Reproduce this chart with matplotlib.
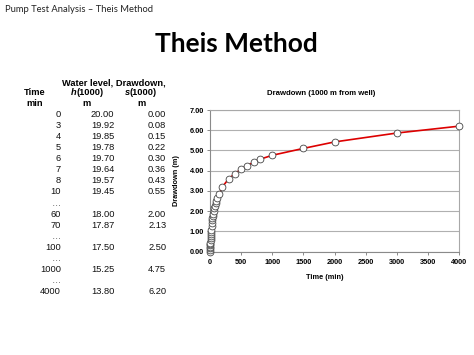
import matplotlib
matplotlib.use("Agg")
import matplotlib.pyplot as plt

# ---------------- data ----------------
table_times = ["0", "3", "4", "5", "6", "7", "8", "10", "\u2026", "60", "70", "\u2026", "100", "\u2026", "1000", "\u2026", "4000"]
table_levels = ["20.00", "19.92", "19.85", "19.78", "19.70", "19.64", "19.57", "19.45", "", "18.00", "17.87", "", "17.50", "", "15.25", "", "13.80"]
table_drawdowns = ["0.00", "0.08", "0.15", "0.22", "0.30", "0.36", "0.43", "0.55", "", "2.00", "2.13", "", "2.50", "", "4.75", "", "6.20"]

time_min = [0, 3, 4, 5, 6, 7, 8, 10, 12, 14, 16, 18, 20, 25, 30, 35, 40, 45, 50, 60, 70, 80, 90, 100,
            120, 150, 200, 300, 400, 500, 600, 700, 800, 1000, 1500, 2000, 3000, 4000]
drawdown_m = [0.00, 0.08, 0.15, 0.22, 0.30, 0.36, 0.43, 0.55, 0.66, 0.77, 0.87, 0.96, 1.05, 1.24, 1.40, 1.54, 1.66, 1.77, 1.86, 2.00, 2.13, 2.25, 2.38, 2.50,
              2.65, 2.85, 3.20, 3.60, 3.85, 4.08, 4.25, 4.42, 4.56, 4.76, 5.10, 5.42, 5.86, 6.20]

x_ticks = [0, 500, 1000, 1500, 2000, 2500, 3000, 3500, 4000]
y_ticks = [0, 1, 2, 3, 4, 5, 6, 7]

# ---------------- figure ----------------
W, H = 474, 355
fig = plt.figure(figsize=(W / 100, H / 100), dpi=100)
fig.patch.set_facecolor("white")


def fx(px):
    return px / W


def fy(py):
    return 1 - py / H


renderer = fig.canvas.get_renderer()


def fit_text(x, y, s, target_w, **kw):
    t = fig.text(fx(x), fy(y), s, **kw)
    fs = t.get_fontsize()
    w = t.get_window_extent(renderer).width
    t.set_fontsize(fs * target_w / w)
    return t


CAL = ["Lato", "DejaVu Sans"]
ARI = ["Liberation Sans", "DejaVu Sans"]

fit_text(5, 10, "Pump Test Analysis \u2013 Theis Method", 149, family=CAL, fontsize=8,
         color="#222222", ha="left", va="center")
fit_text(236.7, 44, "Theis Method", 163, family=CAL, fontsize=20, weight="bold",
         color="black", ha="center", va="center")

# ---------------- table ----------------
TFS = 6.7
fig.text(fx(113.7), fy(82.7), "Water level, Drawdown,", family=ARI, fontsize=TFS, weight="bold",
         ha="center", va="center")
fig.text(fx(34.5), fy(92.7), "Time", family=ARI, fontsize=TFS, weight="bold", ha="center", va="center")
fig.text(fx(34.5), fy(103.3), "min", family=ARI, fontsize=TFS, weight="bold", ha="center", va="center")


def split_header(cx, y, first):
    a = fig.text(0, fy(y), first, family=ARI, fontsize=TFS, weight="bold", style="italic",
                 ha="left", va="center")
    b = fig.text(0, fy(y), "(1000)", family=ARI, fontsize=TFS, weight="bold", ha="left", va="center")
    wa = a.get_window_extent(renderer).width
    wb = b.get_window_extent(renderer).width
    left = cx - (wa + wb) / 2
    a.set_x(fx(left))
    b.set_x(fx(left + wa))


split_header(87.7, 92.7, "h")
split_header(141, 92.7, "s")
fig.text(fx(86.7), fy(103.3), "m", family=ARI, fontsize=TFS, weight="bold", ha="center", va="center")
fig.text(fx(141), fy(103.3), "m", family=ARI, fontsize=TFS, weight="bold", ha="center", va="center")

row0, dy = 113.3, 11.08
for i, (t, lv, dd) in enumerate(zip(table_times, table_levels, table_drawdowns)):
    yb = row0 + i * dy + 3.6
    col = "#777777" if t == "\u2026" else "#111111"
    fig.text(fx(61), fy(yb), t, family=ARI, fontsize=TFS, ha="right", va="baseline", color=col)
    if lv:
        fig.text(fx(114.5), fy(yb), lv, family=ARI, fontsize=TFS, ha="right", va="baseline", color="#111111")
    if dd:
        fig.text(fx(166.2), fy(yb), dd, family=ARI, fontsize=TFS, ha="right", va="baseline", color="#111111")

# ---------------- chart ----------------
ax = fig.add_axes([fx(210), fy(251.5), fx(459) - fx(210), fy(110) - fy(251.5)])
ax.set_xlim(0, 4000)
ax.set_ylim(0, 7)
ax.set_xticks(x_ticks)
ax.set_yticks(y_ticks)
ax.set_xticklabels([str(v) for v in x_ticks])
ax.set_yticklabels(["%.2f" % v for v in y_ticks])
for lab in ax.get_xticklabels() + ax.get_yticklabels():
    lab.set_family(ARI)
    lab.set_fontsize(5.3)
    lab.set_fontweight("bold")
ax.tick_params(axis="both", direction="out", length=2.5, width=0.6, color="#777777")
ax.tick_params(axis="y", pad=1.8)
ax.tick_params(axis="x", pad=3)

ax.grid(axis="y", color="#b0b0b0", linewidth=0.8)
ax.set_axisbelow(True)
for side in ("top", "right"):
    ax.spines[side].set_color("#a8a8a8")
    ax.spines[side].set_linewidth(0.8)
for side in ("left", "bottom"):
    ax.spines[side].set_color("#8a8a8a")
    ax.spines[side].set_linewidth(0.8)

ax.plot(time_min, drawdown_m, color="#dd0000", linewidth=1.2, zorder=3, clip_on=False)
ax.plot(time_min, drawdown_m, linestyle="none", marker="o", markersize=4.9,
        markerfacecolor="white", markeredgecolor="#444444", markeredgewidth=0.6,
        zorder=4, clip_on=False)

fig.text(fx(320.8), fy(93.3), "Drawdown (1000 m from well)", family=ARI, fontsize=5.6,
         weight="bold", ha="center", va="center")
fig.text(fx(324.7), fy(277.7), "Time (min)", family=ARI, fontsize=5.3,
         weight="bold", ha="center", va="center")
fig.text(fx(177), fy(181), "Drawdown (m)", family=ARI, fontsize=5.3,
         weight="bold", ha="center", va="center", rotation=90)

fig.savefig("out.png", dpi=100, facecolor="white")
